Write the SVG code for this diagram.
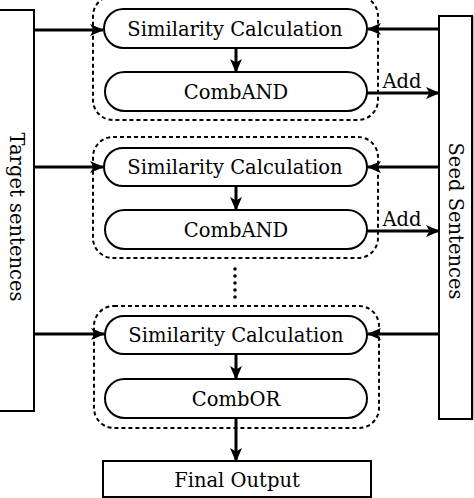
<svg xmlns="http://www.w3.org/2000/svg" width="474" height="498" viewBox="0 0 474 498">
<style>
  .pill{fill:#fff;stroke:#000;stroke-width:2}
  .box{fill:#fff;stroke:#000;stroke-width:2}
  .grp{fill:none;stroke:#000;stroke-width:2;stroke-dasharray:4 3}
  .t{font-family:"DejaVu Serif","Liberation Serif",serif;font-size:19.5px;fill:#000;text-anchor:middle}
  .a{stroke:#000;stroke-width:3;fill:none;marker-end:url(#ah)}
</style>
<defs>
  <marker id="ah" markerUnits="userSpaceOnUse" markerWidth="14" markerHeight="12" refX="13" refY="6" orient="auto">
    <path d="M0,0 L14,6 L0,12 L3.5,6 z" fill="#000"/>
  </marker>
</defs>
<rect x="0" y="0" width="474" height="498" fill="#fff"/>
<g id="target">
  <rect x="0" y="10" width="3" height="401" fill="#bbb"/>
  <rect class="box" x="-2" y="10" width="36" height="401"/>
  <text class="t" transform="translate(17,217) rotate(90)" dy="7">Target sentences</text>
</g>
<g id="seed">
  <rect x="471" y="16" width="3" height="403" fill="#bbb"/>
  <rect class="box" x="439" y="16" width="33" height="403"/>
  <text class="t" transform="translate(456,221) rotate(90)" dy="7">Seed Sentences</text>
</g>
<g id="group1">
  <rect class="grp" x="93" y="-4" width="285" height="124" rx="20"/>
</g>
<g id="group2">
  <rect class="grp" x="93" y="137" width="285" height="121" rx="20"/>
</g>
<g id="group3">
  <rect class="grp" x="94" y="306" width="285" height="122" rx="20"/>
</g>
<g id="sim1">
  <rect class="pill" x="104" y="9" width="263" height="39" rx="19.5"/>
  <text class="t" x="235" y="36">Similarity Calculation</text>
</g>
<g id="and1">
  <rect class="pill" x="105" y="72" width="262" height="39" rx="19.5"/>
  <text class="t" x="236" y="99">CombAND</text>
</g>
<g id="sim2">
  <rect class="pill" x="104" y="148" width="263" height="38" rx="19"/>
  <text class="t" x="235" y="174">Similarity Calculation</text>
</g>
<g id="and2">
  <rect class="pill" x="105" y="210" width="262" height="39" rx="19.5"/>
  <text class="t" x="236" y="237">CombAND</text>
</g>
<g id="sim3">
  <rect class="pill" x="105" y="316" width="262" height="38" rx="19"/>
  <text class="t" x="236" y="342">Similarity Calculation</text>
</g>
<g id="or">
  <rect class="pill" x="105" y="379" width="262" height="39" rx="19.5"/>
  <text class="t" x="236" y="406">CombOR</text>
</g>
<g id="final">
  <rect class="box" x="103" y="461" width="268" height="36"/>
  <text class="t" x="237" y="487">Final Output</text>
</g>
<g id="dots" fill="#000">
  <circle cx="235" cy="269" r="1.8"/>
  <circle cx="235" cy="276" r="1.8"/>
  <circle cx="235" cy="283" r="1.8"/>
  <circle cx="235" cy="290" r="1.8"/>
  <circle cx="235" cy="297" r="1.8"/>
</g>
<g id="connectors">
  <line class="a" x1="35" y1="30" x2="103" y2="30"/>
  <line class="a" x1="35" y1="167" x2="103" y2="167"/>
  <line class="a" x1="35" y1="334" x2="104" y2="334"/>
  <line class="a" x1="439" y1="29" x2="368" y2="29"/>
  <line class="a" x1="439" y1="167" x2="368" y2="167"/>
  <line class="a" x1="439" y1="334" x2="368" y2="334"/>
  <line class="a" x1="236" y1="48" x2="236" y2="72"/>
  <line class="a" x1="236" y1="186" x2="236" y2="210"/>
  <line class="a" x1="236" y1="354" x2="236" y2="379"/>
  <line class="a" x1="236" y1="418" x2="236" y2="461"/>
  <line class="a" x1="367" y1="93" x2="439" y2="93"/>
  <line class="a" x1="367" y1="231" x2="439" y2="231"/>
  <text class="t" x="402" y="88">Add</text>
  <text class="t" x="402" y="226">Add</text>
</g>
</svg>
